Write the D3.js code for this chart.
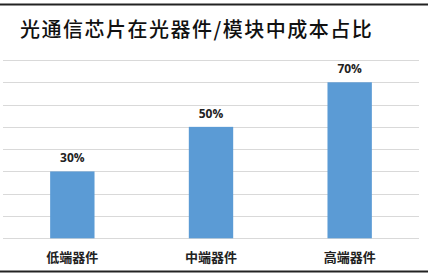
<!DOCTYPE html>
<html><head><meta charset="utf-8">
<script src="https://cdn.jsdelivr.net/npm/d3@7"></script>
<style>body{margin:0;background:#fff}svg{display:block}</style>
</head><body>
<script>
const title = "光通信芯片在光器件/模块中成本占比";
const categories = ["低端器件", "中端器件", "高端器件"];
const values = [30, 50, 70];
const gridTicks = [0, 10, 20, 30, 40, 50, 60, 70, 80];

const W = 428, H = 278;
const svg = d3.select("body").append("svg").attr("width", W).attr("height", H);
svg.append("rect").attr("width", W).attr("height", H).attr("fill", "#fff");

// frame lines
svg.append("line").attr("x1", 0).attr("x2", W).attr("y1", 4.5).attr("y2", 4.5).attr("stroke", "#222").attr("stroke-width", 2);
svg.append("line").attr("x1", 0).attr("x2", W).attr("y1", 271.5).attr("y2", 271.5).attr("stroke", "#222").attr("stroke-width", 2);

svg.append("text").attr("x", 20).attr("y", 37).text(title)
  .attr("font-family", "'Noto Sans CJK SC', sans-serif").attr("font-size", 20)
  .attr("font-weight", 500)
  .attr("letter-spacing", 1.5).attr("fill", "#111");

const x = d3.scaleBand().domain(categories).range([3, 419]).paddingInner(0.68).paddingOuter(0.34);
const y = d3.scaleLinear().domain([0, 80]).range([238.3, 60]);

svg.append("g").selectAll("line").data(gridTicks).join("line")
  .attr("x1", 3).attr("x2", 419)
  .attr("y1", d => Math.round(y(d)) + 0.5).attr("y2", d => Math.round(y(d)) + 0.5)
  .attr("stroke", "#d9d9d9").attr("stroke-width", 1);

svg.append("g").selectAll("rect").data(values).join("rect")
  .attr("x", (d, i) => x(categories[i])).attr("width", x.bandwidth())
  .attr("y", d => y(d)).attr("height", d => y(0) - y(d))
  .attr("fill", "#5b9bd5");

svg.append("g").selectAll("text").data(values).join("text")
  .attr("x", (d, i) => x(categories[i]) + x.bandwidth() / 2)
  .attr("y", d => y(d) - 9)
  .attr("text-anchor", "middle")
  .attr("font-family", "'Open Sans', 'DejaVu Sans', sans-serif").attr("font-weight", "bold")
  .attr("font-size", 12).attr("fill", "#222")
  .text(d => d + "%");

svg.append("g").selectAll("text").data(categories).join("text")
  .attr("x", d => x(d) + x.bandwidth() / 2)
  .attr("y", 262)
  .attr("text-anchor", "middle")
  .attr("font-family", "'Noto Sans CJK SC', sans-serif").attr("font-size", 13)
  .attr("font-weight", "bold")
  .attr("fill", "#222")
  .text(d => d);
</script>
</body></html>
